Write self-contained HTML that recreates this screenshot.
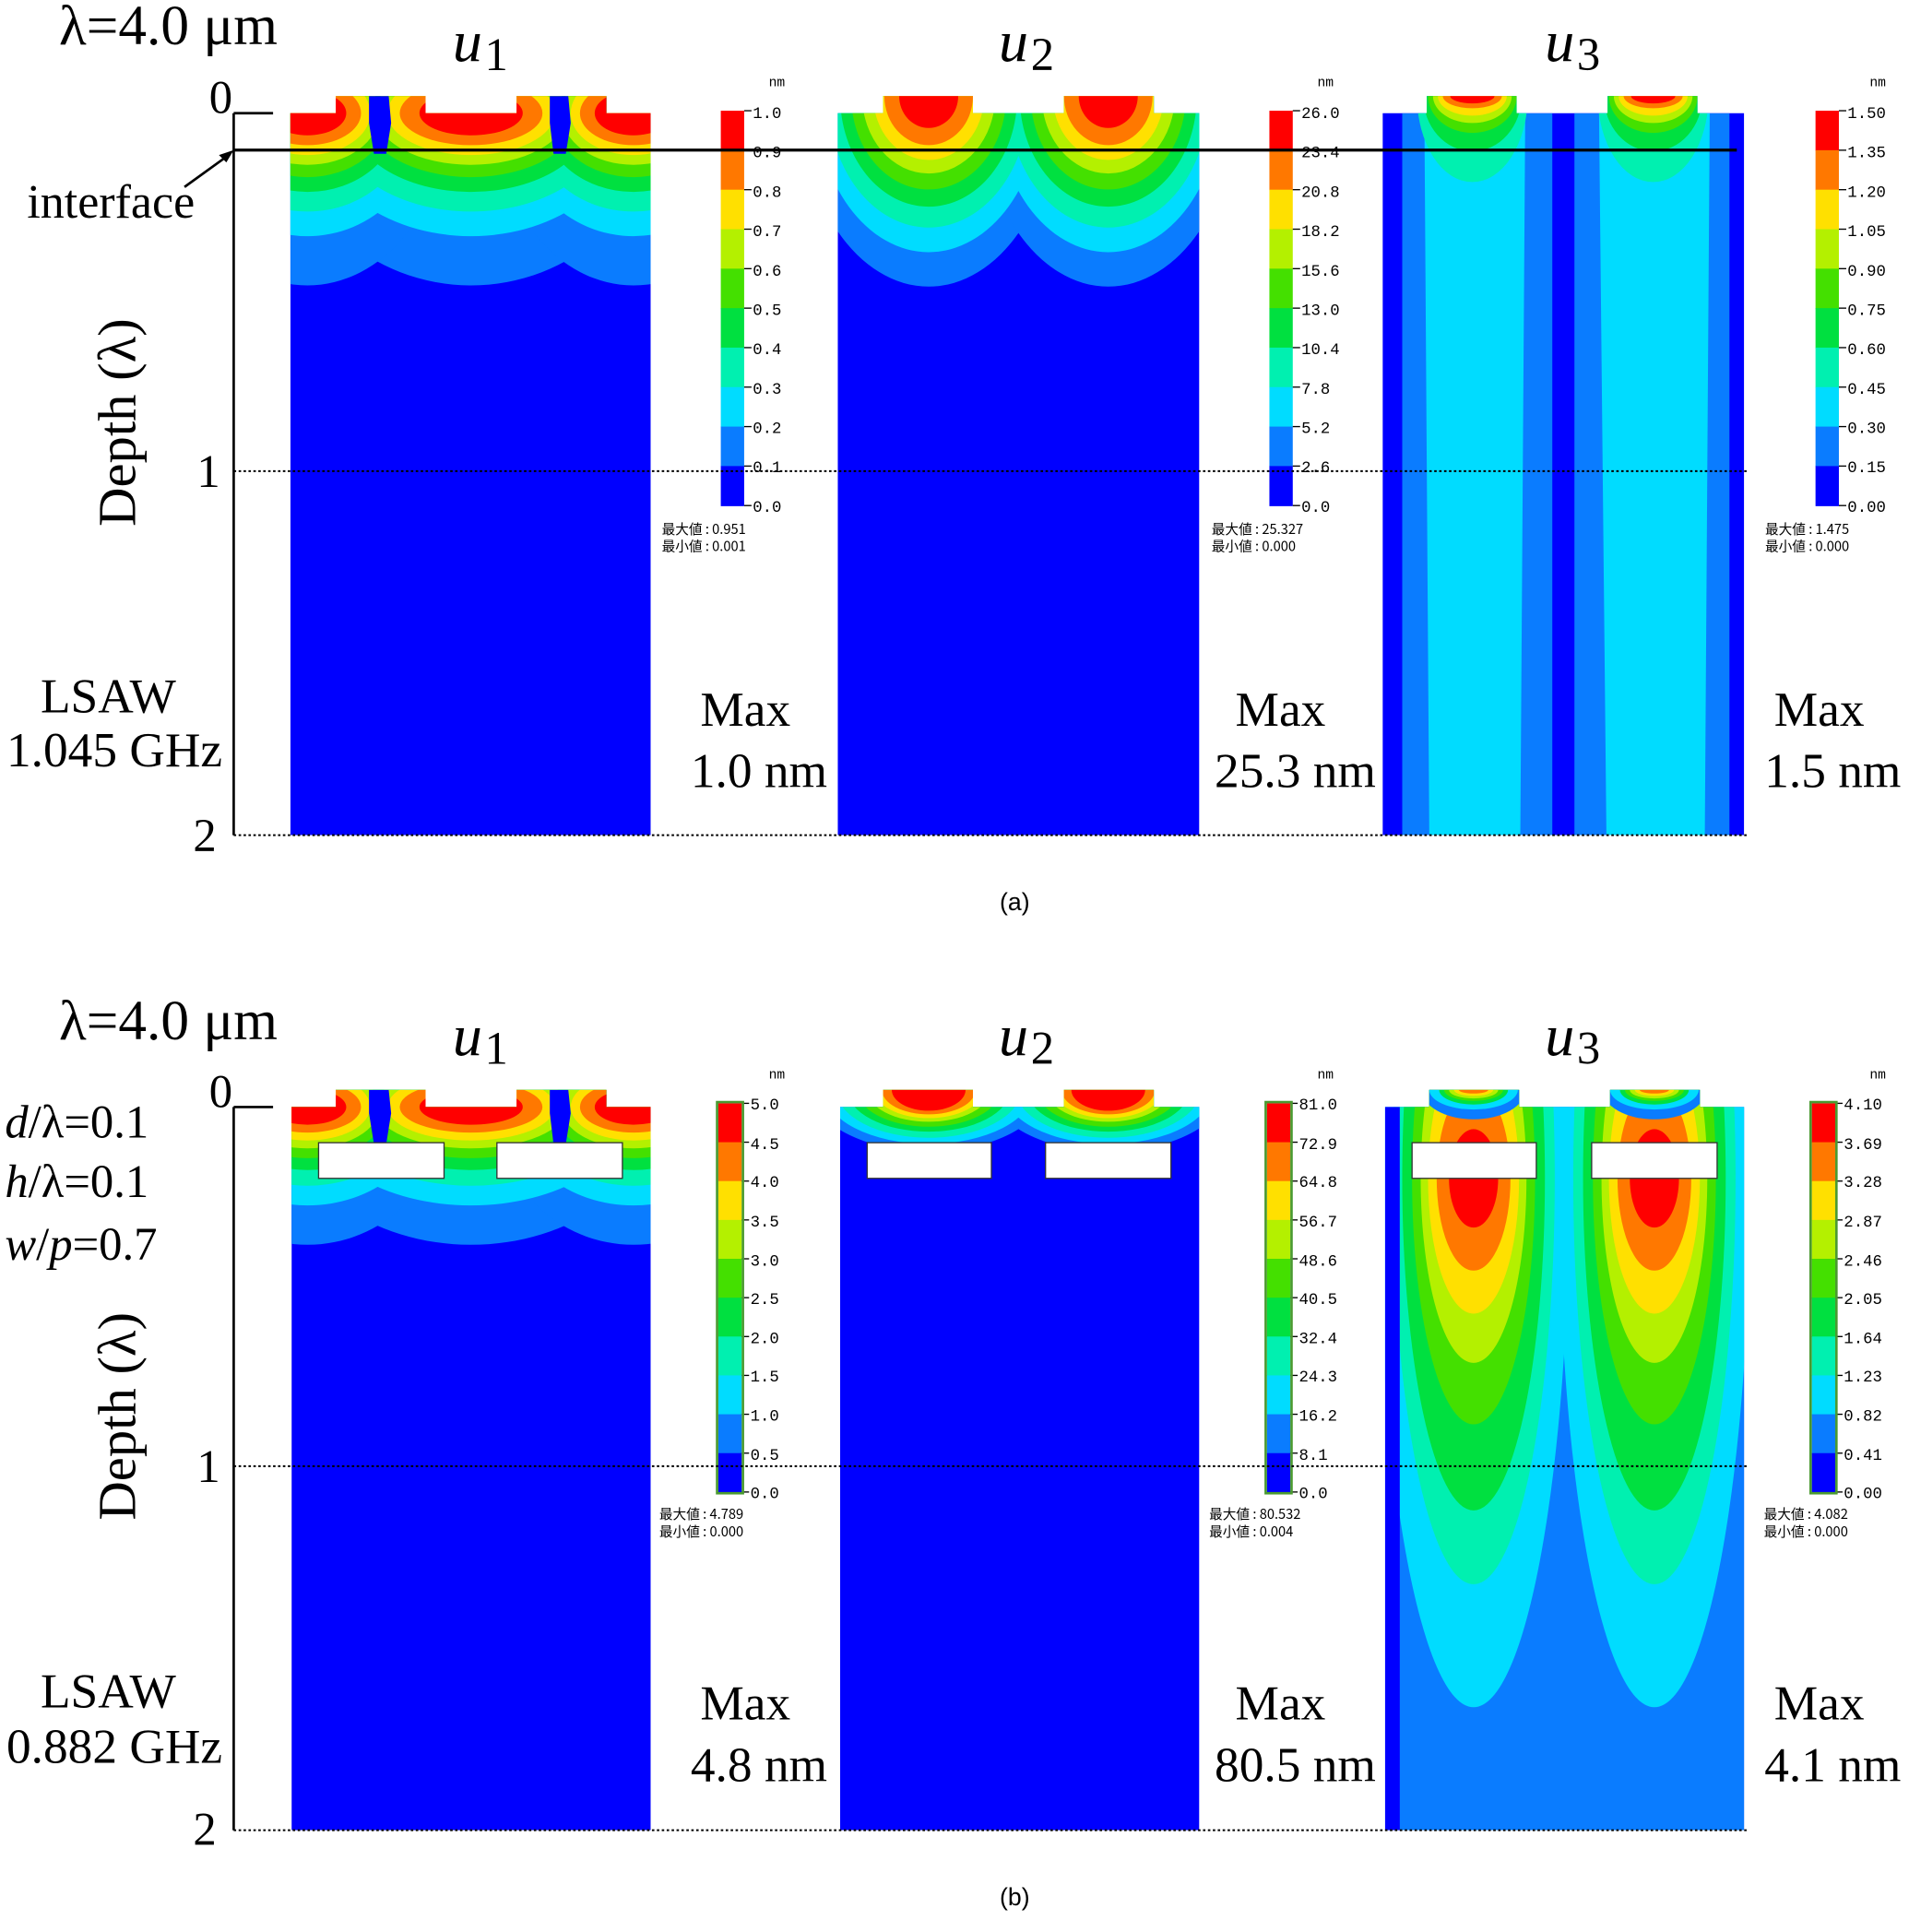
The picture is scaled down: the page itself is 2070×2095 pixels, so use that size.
<!DOCTYPE html>
<html><head><meta charset="utf-8"><style>
html,body{margin:0;padding:0;background:#fff;width:2070px;height:2095px;overflow:hidden}
svg{display:block}
.s{font-family:"Liberation Serif",serif;fill:#000}
.m{font-family:"Liberation Mono","Noto Sans CJK JP",monospace;fill:#000;font-size:13px}
.j{font-family:"Noto Sans CJK JP",sans-serif;fill:#000;font-size:11px}
</style></head><body>
<svg id="sv" width="2070" height="2095" viewBox="0 0 1552 1570.7" xmlns="http://www.w3.org/2000/svg">
<g id="shapes"></g>
<g id="overlay">
<line x1="190" y1="92" x2="190" y2="679" stroke="#000" stroke-width="2"/>
<line x1="190" y1="92" x2="222" y2="92" stroke="#000" stroke-width="2"/>
<line x1="190" y1="383" x2="1420" y2="383" stroke="#000" stroke-width="1.5" stroke-dasharray="2,2"/>
<line x1="190" y1="679" x2="1420" y2="679" stroke="#000" stroke-width="1.5" stroke-dasharray="2,2"/>
<line x1="190" y1="122" x2="1412" y2="122" stroke="#000" stroke-width="2.5"/>
<line x1="150" y1="152" x2="186" y2="126" stroke="#000" stroke-width="2"/>
<polygon points="190,122 178,126 184,132" fill="#000"/>
<line x1="190" y1="900" x2="190" y2="1488" stroke="#000" stroke-width="2"/>
<line x1="190" y1="900" x2="222" y2="900" stroke="#000" stroke-width="2"/>
<line x1="190" y1="1192" x2="1420" y2="1192" stroke="#000" stroke-width="1.5" stroke-dasharray="2,2"/>
<line x1="190" y1="1488" x2="1420" y2="1488" stroke="#000" stroke-width="1.5" stroke-dasharray="2,2"/>

<text class="s" x="48" y="36" font-size="46">λ=4.0 μm</text>
<text class="s" x="368" y="50" font-size="48" font-style="italic">u</text><text class="s" x="394" y="57" font-size="38">1</text>
<text class="s" x="812" y="50" font-size="48" font-style="italic">u</text><text class="s" x="838" y="57" font-size="38">2</text>
<text class="s" x="1256" y="50" font-size="48" font-style="italic">u</text><text class="s" x="1282" y="57" font-size="38">3</text>
<text class="s" x="170" y="92" font-size="38">0</text>
<text class="s" x="160" y="396" font-size="38">1</text>
<text class="s" x="157" y="692" font-size="38">2</text>
<text class="s" x="22" y="177" font-size="39">interface</text>
<text class="s" x="0" y="0" font-size="44" transform="translate(110,428) rotate(-90)">Depth (λ)</text>
<text class="s" x="88" y="579" font-size="40" text-anchor="middle">LSAW</text>
<text class="s" x="93" y="623" font-size="40" text-anchor="middle">1.045 GHz</text>
<text class="s" x="606" y="590" font-size="40" text-anchor="middle">Max</text>
<text class="s" x="617" y="640" font-size="40" text-anchor="middle">1.0 nm</text>
<text class="s" x="1041" y="590" font-size="40" text-anchor="middle">Max</text>
<text class="s" x="1053" y="640" font-size="40" text-anchor="middle">25.3 nm</text>
<text class="s" x="1479" y="590" font-size="40" text-anchor="middle">Max</text>
<text class="s" x="1490" y="640" font-size="40" text-anchor="middle">1.5 nm</text>
<text x="825" y="740" font-size="20" text-anchor="middle" font-family="Liberation Sans,sans-serif">(a)</text>

<text class="s" x="48" y="845" font-size="46">λ=4.0 μm</text>
<text class="s" x="368" y="858" font-size="48" font-style="italic">u</text><text class="s" x="394" y="865" font-size="38">1</text>
<text class="s" x="812" y="858" font-size="48" font-style="italic">u</text><text class="s" x="838" y="865" font-size="38">2</text>
<text class="s" x="1256" y="858" font-size="48" font-style="italic">u</text><text class="s" x="1282" y="865" font-size="38">3</text>
<text class="s" x="170" y="900" font-size="38">0</text>
<text class="s" x="160" y="1205" font-size="38">1</text>
<text class="s" x="157" y="1500" font-size="38">2</text>
<text class="s" x="4" y="925" font-size="38"><tspan font-style="italic">d</tspan>/λ=0.1</text>
<text class="s" x="4" y="973" font-size="38"><tspan font-style="italic">h</tspan>/λ=0.1</text>
<text class="s" x="4" y="1024" font-size="38"><tspan font-style="italic">w</tspan>/<tspan font-style="italic">p</tspan>=0.7</text>
<text class="s" x="0" y="0" font-size="44" transform="translate(110,1236) rotate(-90)">Depth (λ)</text>
<text class="s" x="88" y="1388" font-size="40" text-anchor="middle">LSAW</text>
<text class="s" x="93" y="1433" font-size="40" text-anchor="middle">0.882 GHz</text>
<text class="s" x="606" y="1398" font-size="40" text-anchor="middle">Max</text>
<text class="s" x="617" y="1448" font-size="40" text-anchor="middle">4.8 nm</text>
<text class="s" x="1041" y="1398" font-size="40" text-anchor="middle">Max</text>
<text class="s" x="1053" y="1448" font-size="40" text-anchor="middle">80.5 nm</text>
<text class="s" x="1479" y="1398" font-size="40" text-anchor="middle">Max</text>
<text class="s" x="1490" y="1448" font-size="40" text-anchor="middle">4.1 nm</text>
<text x="825" y="1549" font-size="20" text-anchor="middle" font-family="Liberation Sans,sans-serif">(b)</text>

<g class="m">
<text x="625" y="70" font-size="11">nm</text>
<text x="612" y="96">1.0</text><text x="612" y="128">0.9</text><text x="612" y="160">0.8</text><text x="612" y="192">0.7</text><text x="612" y="224">0.6</text><text x="612" y="256">0.5</text><text x="612" y="288">0.4</text><text x="612" y="320">0.3</text><text x="612" y="352">0.2</text><text x="612" y="384">0.1</text><text x="612" y="416">0.0</text>
<text x="1071" y="70" font-size="11">nm</text>
<text x="1058" y="96">26.0</text><text x="1058" y="128">23.4</text><text x="1058" y="160">20.8</text><text x="1058" y="192">18.2</text><text x="1058" y="224">15.6</text><text x="1058" y="256">13.0</text><text x="1058" y="288">10.4</text><text x="1058" y="320">7.8</text><text x="1058" y="352">5.2</text><text x="1058" y="384">2.6</text><text x="1058" y="416">0.0</text>
<text x="1520" y="70" font-size="11">nm</text>
<text x="1502" y="96">1.50</text><text x="1502" y="128">1.35</text><text x="1502" y="160">1.20</text><text x="1502" y="192">1.05</text><text x="1502" y="224">0.90</text><text x="1502" y="256">0.75</text><text x="1502" y="288">0.60</text><text x="1502" y="320">0.45</text><text x="1502" y="352">0.30</text><text x="1502" y="384">0.15</text><text x="1502" y="416">0.00</text>
<text x="625" y="877" font-size="11">nm</text>
<text x="610" y="902">5.0</text><text x="610" y="934">4.5</text><text x="610" y="965">4.0</text><text x="610" y="997">3.5</text><text x="610" y="1029">3.0</text><text x="610" y="1060">2.5</text><text x="610" y="1092">2.0</text><text x="610" y="1123">1.5</text><text x="610" y="1155">1.0</text><text x="610" y="1187">0.5</text><text x="610" y="1218">0.0</text>
<text x="1071" y="877" font-size="11">nm</text>
<text x="1056" y="902">81.0</text><text x="1056" y="934">72.9</text><text x="1056" y="965">64.8</text><text x="1056" y="997">56.7</text><text x="1056" y="1029">48.6</text><text x="1056" y="1060">40.5</text><text x="1056" y="1092">32.4</text><text x="1056" y="1123">24.3</text><text x="1056" y="1155">16.2</text><text x="1056" y="1187">8.1</text><text x="1056" y="1218">0.0</text>
<text x="1520" y="877" font-size="11">nm</text>
<text x="1499" y="902">4.10</text><text x="1499" y="934">3.69</text><text x="1499" y="965">3.28</text><text x="1499" y="997">2.87</text><text x="1499" y="1029">2.46</text><text x="1499" y="1060">2.05</text><text x="1499" y="1092">1.64</text><text x="1499" y="1123">1.23</text><text x="1499" y="1155">0.82</text><text x="1499" y="1187">0.41</text><text x="1499" y="1218">0.00</text>
</g>
<g class="j">
<text x="538" y="434">最大値 : 0.951</text><text x="538" y="448">最小値 : 0.001</text>
<text x="985" y="434">最大値 : 25.327</text><text x="985" y="448">最小値 :  0.000</text>
<text x="1435" y="434">最大値 : 1.475</text><text x="1435" y="448">最小値 : 0.000</text>
<text x="536" y="1235">最大値 : 4.789</text><text x="536" y="1249">最小値 : 0.000</text>
<text x="983" y="1235">最大値 : 80.532</text><text x="983" y="1249">最小値 :  0.004</text>
<text x="1434" y="1235">最大値 : 4.082</text><text x="1434" y="1249">最小値 : 0.000</text>
</g>
</g>
</svg>
<script>
var NS="http://www.w3.org/2000/svg",G=document.getElementById('shapes'),DEFS=document.createElementNS(NS,'defs');G.appendChild(DEFS);
var C=['#0000ff','#0a7cff','#00dcff','#00f0b0','#00e040','#44e000','#b4f000','#ffe000','#ff7800','#ff0000'];
function el(t,a,p){var e=document.createElementNS(NS,t);for(var k in a)e.setAttribute(k,a[k]);(p||G).appendChild(e);return e;}
var cid=0;
function panel(x,y,w,h,elecs,elY){
  var id='c'+(cid++);var cp=el('clipPath',{id:id},DEFS);
  el('rect',{x:x,y:y,width:w,height:h},cp);
  elecs.forEach(function(a){el('rect',{x:a[0],y:elY,width:a[1]-a[0],height:y-elY+1},cp);});
  var g=el('g',{'clip-path':'url(#'+id+')'});
  el('rect',{x:x,y:elY,width:w,height:h+y-elY,fill:C[0]},g);
  return g;
}
function lobes(g,list){
  for(var k=0;k<9;k++){list.forEach(function(L){var r=L[2][k];if(r&&r[0]>0)el('ellipse',{cx:L[0],cy:L[1],rx:r[0],ry:r[1],fill:C[k+1]},g);});}
}
function cbar(x,y0,y1,outline){
  var h=(y1-y0)/10;
  for(var i=0;i<10;i++){el('rect',{x:x,y:y0+i*h,width:19,height:h+0.5,fill:C[9-i]});
    el('line',{x1:x+19,y1:y0+i*h,x2:x+25,y2:y0+i*h,stroke:'#000','stroke-width':1});}
  el('line',{x1:x+19,y1:y1,x2:x+25,y2:y1,stroke:'#000','stroke-width':1});
  if(outline)el('rect',{x:x-1,y:y0-1,width:21,height:y1-y0+2,fill:'none',stroke:'#4a9a30','stroke-width':2});
}
function sc(arr,fx,fy){return arr.map(function(r){return [r[0]*fx,r[1]*fy];});}
var A=[[150,140],[130,100],[115,80],[100,64],[88,52],[78,42],[68,34],[58,26],[42,18]];
var g=panel(236,92,293,587,[[273,346],[420,493]],78);
lobes(g,[[383,92,A],[250,92,sc(A,0.75,1)],[515,92,sc(A,0.75,1)]]);
el('polygon',{points:'300,78 316,78 318,100 314,125 304,125 300,100',fill:C[0]},g);
el('polygon',{points:'447,78 462,78 464,100 460,125 450,125 447,100',fill:C[0]},g);
var B=[[105,155],[92,127],[82,107],[72,90],[63,76],[54,63],[45,52],[36,40],[24,26]];
g=panel(681,92,294,587,[[718,791],[865,938]],78);
lobes(g,[[755,78,B],[901,78,B]]);
g=panel(1124,92,294,587,[[1160,1233],[1307,1380]],78);
el('rect',{x:1140,y:92,width:122,height:587,fill:C[1]},g);
el('rect',{x:1280,y:92,width:126,height:587,fill:C[1]},g);
el('polygon',{points:'1158,92 1240,92 1236,679 1162,679',fill:C[2]},g);
el('polygon',{points:'1300,92 1390,92 1386,679 1306,679',fill:C[2]},g);
var T=[[0,0],[0,0],[45,70],[40,45],[36,30],[32,22],[28,16],[24,10],[18,6]];
lobes(g,[[1197,78,T],[1344,78,T]]);
cbar(586,90,411,false);cbar(1032,90,411,false);cbar(1476,90,411,false);
var A2=sc(A,1,0.8);
g=panel(237,900,292,588,[[273,346],[420,493]],886);
lobes(g,[[383,900,A2],[250,900,sc(A2,0.75,1)],[515,900,sc(A2,0.75,1)]]);
el('polygon',{points:'300,886 316,886 318,905 314,930 304,930 300,905',fill:C[0]},g);
el('polygon',{points:'447,886 462,886 464,905 460,930 450,930 447,905',fill:C[0]},g);
el('rect',{x:259,y:929,width:102,height:29,fill:'#fff',stroke:'#333','stroke-width':1},g);
el('rect',{x:404,y:929,width:102,height:29,fill:'#fff',stroke:'#333','stroke-width':1},g);
var B2=[[95,50],[85,44],[75,39],[66,34],[58,30],[50,26],[44,23],[38,20],[30,17]];
g=panel(683,900,292,588,[[718,791],[865,938]],886);
lobes(g,[[755,886,B2],[901,886,B2]]);
el('rect',{x:705,y:929,width:101,height:29,fill:'#fff',stroke:'#333','stroke-width':1},g);
el('rect',{x:850,y:929,width:102,height:29,fill:'#fff',stroke:'#333','stroke-width':1},g);
g=panel(1126,900,292,588,[[1162,1235],[1309,1382]],886);
var U=[[100,800],[78,430],[66,330],[58,270],[50,200],[43,150],[37,110],[30,75],[20,40]];
lobes(g,[[1198,958,U],[1345,958,U]]);
el('rect',{x:1126,y:900,width:12,height:588,fill:C[0]},g);
var E=[[42,24],[36,16],[0,0],[28,12],[24,9],[20,7],[16,5],[12,3]];
lobes(g,[[1198,886,E],[1345,886,E]]);
el('rect',{x:1148,y:929,width:101,height:29,fill:'#fff',stroke:'#333','stroke-width':1},g);
el('rect',{x:1294,y:929,width:102,height:29,fill:'#fff',stroke:'#333','stroke-width':1},g);
cbar(584,897,1213,true);cbar(1030,897,1213,true);cbar(1473,897,1213,true);
</script>
</body></html>
